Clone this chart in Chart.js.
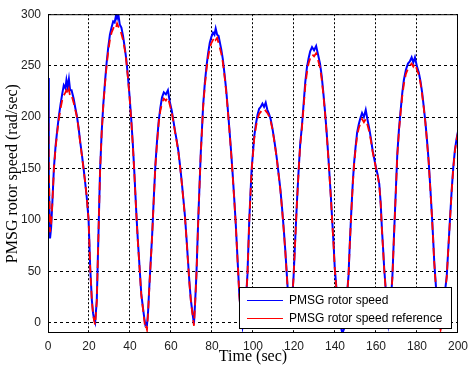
<!DOCTYPE html>
<html><head><meta charset="utf-8">
<script src="https://cdn.jsdelivr.net/npm/chart.js@4"></script>
<style>html,body{margin:0;padding:0;background:#fff}canvas{display:block}</style>
</head><body>
<canvas id="c" width="474" height="370"></canvas>
<script>
const time = [
  0, 0.4, 1.0, 1.5, 2.1, 2.9, 3.7, 4.5, 5.3, 6.1, 6.9, 7.7, 8.5, 9.0, 9.6, 10.2, 10.8, 11.5, 12.5, 13.3, 14.1, 14.9, 15.7, 16.5, 17.3, 18.1, 18.9, 19.8, 20.6, 21.4, 22.0, 22.5, 23.0,
  23.8, 24.6, 25.4, 26.2, 27.0, 27.8, 28.6, 29.4, 30.2, 31.0, 31.8, 32.5, 33.2, 33.7, 34.3, 35.0, 35.8, 36.6, 37.4, 38.2, 39.0, 39.8, 40.6, 41.4, 42.2, 43.0, 43.8, 44.7, 45.5, 46.3, 47.0, 47.5, 47.9,
  48.3, 48.8, 49.5, 50.8, 51.6, 52.4, 53.2, 54.0, 54.8, 55.6, 56.5, 57.5, 58.5, 59.4, 60.4, 61.2, 62.0, 62.8, 63.6, 64.4, 65.2, 66.0, 66.8, 67.6, 68.4, 69.0, 69.7, 70.5, 71.2,
  71.8, 72.4, 73.3, 74.5, 75.7, 76.5, 77.3, 78.1, 78.9, 79.7, 80.5, 81.2, 81.8, 82.5, 83.2, 84.5, 85.3, 86.1, 86.9, 87.7, 88.5, 89.3, 90.1, 90.9, 91.6, 92.2, 92.8, 93.3, 94.1, 94.9,
  95.7, 96.5, 97.3, 98.2, 99.3, 100.6, 101.4, 102.2, 103.0, 103.8, 104.6, 105.4, 106.2, 107.0, 107.8, 108.6, 109.4, 110.2, 111.0, 111.8, 112.6, 113.4, 114.2, 115.0, 115.8, 116.5, 117.3, 118.2,
  119.0, 119.8, 120.6, 121.4, 122.2, 123.0, 123.9, 124.7, 125.5, 126.3, 127.1, 127.9, 128.8, 129.8, 130.8, 131.8, 132.7, 133.5, 134.3, 135.1, 135.9, 136.7, 137.5, 138.1, 138.6, 139.3, 139.9, 140.6, 141.2, 142.0, 142.8,
  143.6, 144.4, 145.2, 146.0, 146.6, 147.2, 148.0, 148.7, 149.3, 150.0, 150.8, 151.6, 152.4, 153.2, 154.1, 155.0, 155.9, 156.8, 157.6, 158.4, 159.2, 160.0, 160.8, 161.6, 162.3, 162.9, 163.5, 164.0, 164.7, 165.4, 166.1, 166.8, 167.4, 168.0,
  168.7, 169.3, 170.4, 171.2, 172.0, 172.8, 173.6, 174.6, 175.6, 176.5, 177.4, 178.2, 179.0, 180.0, 180.9, 181.7, 182.5, 183.3, 184.1, 184.9, 185.7, 186.5, 187.3, 187.9, 188.4, 188.9, 189.4, 190.1, 190.8, 191.5, 192.2, 192.9, 193.7, 194.5, 195.3, 196.1, 196.9, 197.7, 198.5, 199.4, 200
];
const speed = [
  238, 140, 82, 92, 116, 151, 172, 187, 201, 212, 222, 231, 228, 236, 229, 237, 226, 226, 218, 209, 201, 190, 176, 164, 151, 137, 122, 100, 53, 22, 9, 3, 0,
  22, 85, 148, 186, 213, 234, 253, 268, 280, 287, 293, 292, 299, 296, 300, 290, 287, 279, 268, 256, 239, 220, 198, 173, 143, 110, 81, 53, 28, 15, 4, -2, -1,
  -2, 10, 38, 85, 121, 154, 177, 196, 209, 219, 224, 222, 226, 215, 206, 196, 186, 177, 167, 153, 138, 121, 104, 81, 57, 39, 22, 9, -1,
  21, 47, 101, 164, 212, 233, 249, 262, 272, 278, 282, 280, 286, 280, 279, 266, 256, 242, 227, 208, 188, 167, 144, 119, 96, 72, 49, 28, 8, -4,
  6, 21, 47, 101, 148, 181, 193, 202, 208, 210, 213, 210, 214, 207, 203, 198, 190, 180, 169, 157, 143, 129, 111, 91, 69, 47, 21, -2,
  21, 45, 81, 116, 146, 173, 192, 213, 234, 248, 257, 264, 268, 265, 269, 260, 252, 240, 224, 206, 186, 163, 138, 119, 101, 77, 53, 36, 22, 6, -4,
  -10, -6, 8, 31, 46, 76, 110, 137, 155, 170, 185, 193, 199, 204, 200, 207, 197, 188, 178, 167, 159, 151, 144, 135, 116, 91, 71, 53, 34, 13, -2, 6, 26, 45,
  81, 110, 164, 188, 206, 223, 236, 246, 252, 254, 258, 253, 258, 249, 243, 235, 224, 210, 195, 177, 157, 131, 104, 81, 60, 45, 31, 13, -1, -5, 2, 16, 31, 45, 73, 101, 128, 151, 168, 180, 186
];
const speedRef = [
  232, 150, 88, 95, 115, 150, 170, 185, 198, 208, 216, 221, 224, 226, 222, 227, 220, 221, 214, 207, 200, 189, 175, 163, 150, 137, 122, 100, 52, 21, 8, 2, -2,
  21, 84, 147, 185, 212, 232, 250, 264, 275, 282, 286, 289, 287, 291, 288, 286, 281, 275, 266, 254, 238, 219, 197, 172, 142, 109, 80, 52, 27, 14, 2, -6, -4,
  -7, 8, 37, 84, 120, 153, 175, 194, 206, 213, 218, 216, 219, 212, 204, 195, 185, 176, 166, 152, 137, 120, 103, 80, 56, 38, 21, 8, -3,
  20, 46, 100, 163, 210, 230, 246, 258, 267, 272, 275, 278, 275, 277, 272, 262, 253, 240, 225, 207, 187, 166, 143, 118, 95, 71, 48, 27, 6, -6,
  5, 20, 46, 100, 147, 179, 190, 198, 203, 205, 207, 208, 206, 204, 201, 196, 189, 179, 168, 156, 142, 128, 110, 90, 68, 46, 20, -4,
  20, 44, 80, 115, 145, 172, 190, 210, 230, 243, 252, 257, 261, 259, 262, 255, 248, 237, 222, 205, 185, 162, 137, 118, 100, 76, 52, 35, 21, 8, -2,
  -6, -3, 10, 30, 45, 75, 109, 135, 153, 168, 182, 189, 194, 198, 195, 198, 192, 185, 176, 166, 158, 150, 143, 134, 115, 90, 70, 52, 33, 12, -4, 5, 25, 44,
  80, 109, 163, 186, 204, 220, 232, 242, 247, 250, 252, 249, 252, 246, 241, 233, 222, 209, 194, 176, 156, 130, 103, 80, 59, 44, 30, 12, -2, -7, 0, 15, 30, 44, 72, 100, 127, 150, 167, 179, 185
];
const xTicks = [0, 20, 40, 60, 80, 100, 120, 140, 160, 180, 200];
const yTicks = [0, 50, 100, 150, 200, 250, 300];
const seriesLabels = ['PMSG rotor speed', 'PMSG rotor speed reference'];
const seriesColors = ['#0000ff', '#ff0000'];
const xTitle = 'Time (sec)';
const yTitle = 'PMSG rotor speed (rad/sec)';

const sansFont = '"Liberation Sans", Arial, sans-serif';
const serifFont = '"Liberation Serif", "Times New Roman", serif';

const framePlugin = {
  id: 'frame',
  afterDatasetsDraw(chart) {
    const { ctx, chartArea: a } = chart;
    ctx.save();
    ctx.setLineDash([]);
    ctx.strokeStyle = '#000';
    ctx.lineWidth = 1;
    ctx.strokeRect(a.left + 0.5, a.top + 0.5, a.right - a.left - 1, a.bottom - a.top - 1);
    ctx.restore();
  }
};

const legendPlugin = {
  id: 'boxLegend',
  afterDraw(chart) {
    const { ctx, chartArea: a } = chart;
    const w = 213, h = 42;
    const x = a.right - 6 - w, y = a.bottom - 4 - h;
    ctx.save();
    ctx.setLineDash([]);
    ctx.fillStyle = '#fff';
    ctx.fillRect(x, y, w, h);
    ctx.strokeStyle = '#000';
    ctx.lineWidth = 1;
    ctx.strokeRect(x + 0.5, y + 0.5, w - 1, h - 1);
    ctx.font = '12px ' + sansFont;
    ctx.textBaseline = 'middle';
    ctx.textAlign = 'left';
    chart.data.datasets.forEach((ds, i) => {
      const ly = y + 13.5 + i * 18;
      ctx.strokeStyle = ds.borderColor;
      ctx.lineWidth = 1.2;
      ctx.beginPath();
      ctx.moveTo(x + 8, ly);
      ctx.lineTo(x + 44, ly);
      ctx.stroke();
      ctx.fillStyle = '#000';
      ctx.fillText(ds.label, x + 50, ly);
    });
    ctx.restore();
  }
};

new Chart(document.getElementById('c'), {
  type: 'line',
  data: {
    datasets: [
      {
        label: seriesLabels[0],
        data: speed.map((v, i) => ({ x: time[i], y: v })),
        borderColor: seriesColors[0],
        borderWidth: 2,
        pointRadius: 0,
        tension: 0,
        order: 2
      },
      {
        label: seriesLabels[1],
        data: speedRef.map((v, i) => ({ x: time[i], y: v })),
        borderColor: seriesColors[1],
        borderWidth: 1.8,
        borderDash: [8, 5],
        pointRadius: 0,
        tension: 0,
        order: 1
      }
    ]
  },
  options: {
    responsive: false,
    animation: false,
    devicePixelRatio: 1,
    layout: { padding: { top: 5, right: 11, left: 0, bottom: 0 } },
    plugins: { legend: { display: false }, tooltip: { enabled: false } },
    scales: {
      x: {
        type: 'linear', min: 0, max: 200,
        afterBuildTicks: s => { s.ticks = xTicks.map(v => ({ value: v })); },
        afterFit: s => { s.height = 37; },
        grid: { color: '#000', lineWidth: 1, drawTicks: false },
        border: { display: false, dash: [2, 2] },
        ticks: { color: '#222', font: { family: sansFont, size: 12 }, padding: 6, maxRotation: 0, autoSkip: false },
        title: { display: true, text: xTitle, color: '#000', font: { family: serifFont, size: 16, weight: 'normal' }, padding: { top: 0, bottom: 4 } }
      },
      y: {
        type: 'linear', min: -10, max: 300,
        afterBuildTicks: s => { s.ticks = yTicks.map(v => ({ value: v })); },
        afterFit: s => { s.width = 48; },
        grid: { color: '#000', lineWidth: 1, drawTicks: false },
        border: { display: false, dash: [3, 3] },
        ticks: { color: '#222', font: { family: sansFont, size: 12 }, padding: 7 },
        title: { display: true, text: yTitle, color: '#000', font: { family: serifFont, size: 16, weight: 'normal' }, padding: { top: 3, bottom: 0 } }
      }
    }
  },
  plugins: [framePlugin, legendPlugin]
});
</script>
</body></html>
